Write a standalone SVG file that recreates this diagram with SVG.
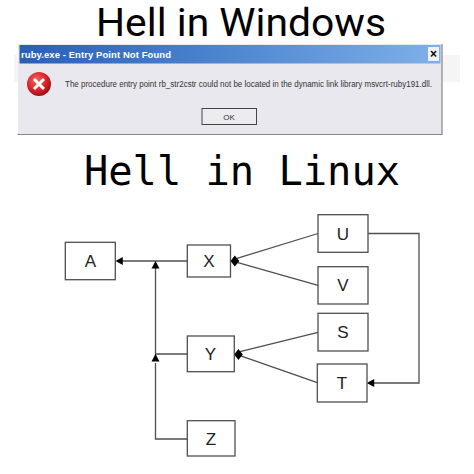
<svg xmlns="http://www.w3.org/2000/svg" width="474" height="474" viewBox="0 0 474 474">
<style>
.n{fill:#fff;stroke:#4f4f4f;stroke-width:1.3}
.c{fill:none;stroke:#4f4f4f;stroke-width:1.3}
.l{font:17px "Liberation Sans",Arial,sans-serif;fill:#222;text-anchor:middle}
.h{fill:#000;stroke:none}
</style>
<defs>
<linearGradient id="tb" x1="0" x2="1" y1="0" y2="0"><stop offset="0" stop-color="#2a5fb4"/><stop offset=".45" stop-color="#4a82cf"/><stop offset="1" stop-color="#7fb0e8"/></linearGradient>
<radialGradient id="er" cx=".4" cy=".35" r=".7"><stop offset="0" stop-color="#f06a60"/><stop offset=".6" stop-color="#d8222a"/><stop offset="1" stop-color="#8c1015"/></radialGradient>
</defs>
<rect width="474" height="474" fill="#fff"/>
<rect x="14" y="55" width="446" height="27" fill="#f5f5f5"/>
<text x="241" y="35.700" font-family="Roboto,'Liberation Sans',sans-serif" font-size="38.500" fill="#000" text-anchor="middle" textLength="290" lengthAdjust="spacingAndGlyphs">Hell in Windows</text>
<g id="dialog">
<rect x="18" y="44" width="424" height="90" fill="#e9e8ee"/>
<path d="M442 44V134.500H17.500" fill="none" stroke="#85858a" stroke-width="1.200"/>
<rect x="19.500" y="45" width="421" height="18.500" fill="url(#tb)"/>
<text x="21" y="58" font-family="'Liberation Sans',Arial,sans-serif" font-size="9.500" font-weight="bold" fill="#fff" textLength="150" lengthAdjust="spacing">ruby.exe - Entry Point Not Found</text>
<rect x="428" y="47" width="11" height="14" fill="#eef1f6"/>
<text x="433.500" y="58" font-family="'Liberation Sans',Arial,sans-serif" font-size="12" font-weight="bold" fill="#000" text-anchor="middle">×</text>
<circle cx="39" cy="84" r="12" fill="url(#er)"/>
<path d="M34 79l10 10M44 79l-10 10" stroke="#fff" stroke-width="3" fill="none"/>
<text x="65" y="87" font-family="'Liberation Sans',Arial,sans-serif" font-size="8.300" fill="#333" textLength="367" lengthAdjust="spacingAndGlyphs">The procedure entry point rb_str2cstr could not be located in the dynamic link library msvcrt-ruby191.dll.</text>
<rect x="202" y="108.500" width="54.500" height="16" fill="#ecebf0" stroke="#444" stroke-width="1"/>
<text x="229" y="119.500" font-family="'Liberation Sans',Arial,sans-serif" font-size="8" fill="#333" text-anchor="middle">OK</text>
</g>
<text x="242" y="185" font-family="'DejaVu Sans Mono','Liberation Mono',monospace" font-size="40.400" fill="#000" text-anchor="middle">Hell in Linux</text>
<g id="connectors">
<path class="c" d="M187.300 261H121"/>
<path class="c" d="M187.300 354H155.500M155.500 267V358M187.300 439H155.500V363"/>
<path class="c" d="M318 233.500L237 258.300M318 285.300L237 262.300"/>
<path class="c" d="M318 332.300L240 351.700M317.300 382.700L240 355.700"/>
<path class="c" d="M368 233.500H419V383H372"/>
<path class="h" d="M115.500 261l7.300-4v8zM155.500 261l-4 7.500h8zM155.500 354l-4 7.500h8zM366.700 383l7.500-4v8z"/>
<path class="h" d="M230.500 261l4.300-5.500 4.500 5.500-4.500 5.500zM234.200 354.500l4.200-5.500 4.400 5.500-4.400 5.500z"/>
</g>
<g id="A"><rect class="n" x="65.300" y="242.300" width="50" height="37.400"/><text class="l" x="90.500" y="267">A</text></g>
<g id="X"><rect class="n" x="187.300" y="245" width="43.200" height="32"/><text class="l" x="209" y="267">X</text></g>
<g id="Y"><rect class="n" x="187.300" y="336" width="47" height="35.700"/><text class="l" x="210.500" y="360">Y</text></g>
<g id="Z"><rect class="n" x="187.300" y="420.700" width="47.700" height="35.300"/><text class="l" x="211" y="445">Z</text></g>
<g id="U"><rect class="n" x="318" y="214.700" width="50" height="37.600"/><text class="l" x="343" y="240">U</text></g>
<g id="V"><rect class="n" x="318" y="266.700" width="50" height="37.300"/><text class="l" x="343" y="291">V</text></g>
<g id="S"><rect class="n" x="318" y="313.300" width="50" height="37.700"/><text class="l" x="343" y="338">S</text></g>
<g id="T"><rect class="n" x="317.300" y="364" width="49.700" height="38"/><text class="l" x="342" y="389">T</text></g>
</svg>
